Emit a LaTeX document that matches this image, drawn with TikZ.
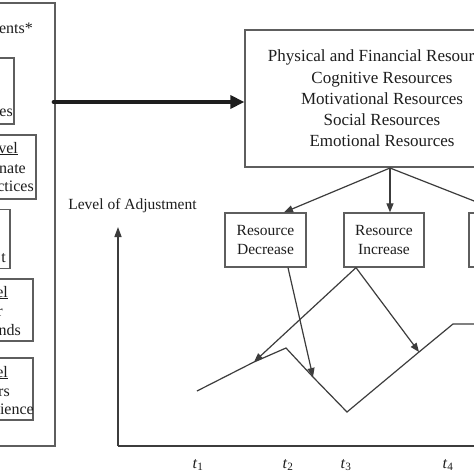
\documentclass[tikz,border=0pt]{standalone}
\usepackage{fontspec}
\setmainfont{Liberation Serif}
\usetikzlibrary{arrows.meta}
\definecolor{boxgray}{HTML}{5E5E5E}
\definecolor{linegray}{HTML}{3C3C3C}
\definecolor{textdark}{HTML}{1E1E1E}
\begin{document}
\begin{tikzpicture}[x=1pt,y=-1pt,
  box/.style={draw=boxgray, line width=1.3pt, inner sep=0pt},
  txt/.style={text=textdark, font=\fontsize{16}{19}\selectfont, inner sep=0pt},
  frag/.style={txt, anchor=base east},
  conn/.style={draw=linegray, line width=1.2pt, -{Triangle[length=9pt,width=7pt]}},
  curve/.style={draw=linegray, line width=1.2pt, line join=miter},
  axis/.style={draw=linegray, line width=1.4pt},
  bigarrow/.style={draw=textdark, line width=4pt, line cap=round, -{Triangle[length=14pt,width=13pt]}}]
\useasboundingbox (0,0) rectangle (474,474);
\fill[white] (0,0) rectangle (474,474);
\clip (0,0) rectangle (474,474);

% left outer frame and its boxes
\node[box, minimum width=205pt, minimum height=443pt] (outer) at (-47.5,224.5) {};
\node[frag] (title) at (33,33) {ents*};
\node[box, minimum width=94pt, minimum height=66pt] (b1) at (-33,91) {};
\node[box, minimum width=96pt, minimum height=64pt] (b2) at (-12,167) {};
\node[box, minimum width=90pt, minimum height=59pt] (b3) at (-35,239) {};
\node[box, minimum width=93pt, minimum height=62pt] (b4) at (-13.5,310) {};
\node[box, minimum width=93pt, minimum height=62pt] (b5) at (-13.5,389) {};
\node[frag] (b1a) at (13,116) {es};
\node[frag] (b2a) at (18,153) {\underline{vel}};
\node[frag] (b2b) at (26,173) {nate};
\node[frag] (b2c) at (34,191) {ctices};
\node[frag] (b3a) at (6,262) {t};
\node[frag] (b4a) at (8,297) {\underline{el}};
\node[frag] (b4b) at (3,316) {r};
\node[frag] (b4c) at (21,335) {nds};
\node[frag] (b5a) at (8,377) {\underline{el}};
\node[frag] (b5b) at (10,396) {rs};
\node[frag] (b5c) at (34,414) {ience};

% resources box
\node[box, txt, font=\fontsize{17}{21.2}\selectfont, align=center,
      minimum width=274pt, minimum height=137pt] (res) at (382,98.5)
  {Physical and Financial Resources\\ Cognitive Resources\\ Motivational Resources\\ Social Resources\\ Emotional Resources};

\draw[bigarrow] ([yshift=-3.5pt,xshift=-2pt]outer.east |- res.west) -- ([yshift=-3.5pt]res.west);

% resource change boxes
\node[box, txt, font=\fontsize{15.5}{19}\selectfont, align=center, minimum width=81pt, minimum height=54pt] (dec) at (265.5,240) {Resource\\Decrease};
\node[box, txt, font=\fontsize{15.5}{19}\selectfont, align=center, minimum width=80pt, minimum height=54pt] (inc) at (384,240) {Resource\\Increase};
\node[box, minimum width=80pt, minimum height=54pt] (third) at (509,240) {};

\coordinate (split) at (390,168);
\draw[conn] (split) -- ([xshift=18.5pt]dec.north);
\draw[conn] (split) -- ([xshift=6pt]inc.north);
\draw[conn] (split) -- ([xshift=-6pt]third.north);

% axes
\coordinate (origin) at (118,446);
\coordinate (ytop) at (118,227);
\coordinate (xend) at (490,446);
\draw[axis, -{Triangle[length=10pt,width=7pt]}] (origin) -- (ytop);
\draw[axis] (origin) -- (xend);
\node[txt, font=\fontsize{15.5}{19}\selectfont] (ylab) at (132.5,206) {Level of Adjustment};

% curve
\coordinate (c0) at (197,391);
\coordinate (hitA) at (254,362);
\coordinate (c2) at (286,348);
\coordinate (hitB) at (313,377);
\coordinate (c4) at (347,412);
\coordinate (hitC) at (419,352);
\coordinate (c6) at (453,324);
\coordinate (c7) at (490,324);
\draw[curve] (c0) -- (hitA) -- (c2) -- (hitB) -- (c4) -- (hitC) -- (c6) -- (c7);

% effect arrows
\draw[conn] ([xshift=22.5pt]dec.south) -- (hitB);
\draw[conn] ([xshift=-28pt]inc.south) -- (hitA);
\draw[conn] ([xshift=-28pt]inc.south) -- (hitC);

% time labels
\node[txt] (t1) at (198,465) {\textit{t}\textsubscript{1}};
\node[txt] (t2) at (288,465) {\textit{t}\textsubscript{2}};
\node[txt] (t3) at (346,465) {\textit{t}\textsubscript{3}};
\node[txt] (t4) at (448,465) {\textit{t}\textsubscript{4}};
\end{tikzpicture}
\end{document}
